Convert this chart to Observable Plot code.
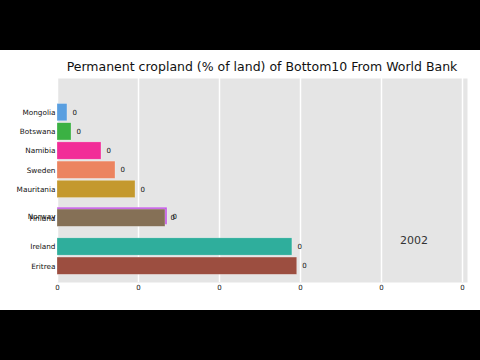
<!DOCTYPE html>
<html><head><meta charset="utf-8">
<script src="https://cdn.jsdelivr.net/npm/d3@7"></script>
<script src="https://cdn.jsdelivr.net/npm/@observablehq/plot@0.6"></script>
<style>
html,body{margin:0;padding:0;background:#000;width:480px;height:360px;overflow:hidden;font-family:"DejaVu Sans",sans-serif;}
#frame{position:absolute;left:0;top:50px;width:480px;height:260px;background:#fff;}
#title{position:absolute;left:57px;width:410px;top:9px;text-align:center;font-size:12.5px;color:#111;white-space:nowrap;}
#chart{position:absolute;left:0;top:28px;}
</style></head>
<body>
<div id="frame"><div id="title">Permanent cropland (% of land) of Bottom10 From World Bank</div><div id="chart"></div></div>
<script>
const countries = ["Mongolia","Botswana","Namibia","Sweden","Mauritania","Norway","Finland","Ireland","Eritrea"];
const values = [0.00123,0.00173,0.00543,0.00716,0.00963,0.01358,0.01333,0.0290,0.0296];
const ranks = [1,2,3,4,5,6.4,6.5,8,9];
const colors = ["#5a9fe0","#3bb143","#f22c98","#ec8460","#c4992e","#c45ee4","#857056","#2fae9c","#9c4e40"];
const ticks = [0,0.01,0.02,0.03,0.04,0.05];
const year = "2002";

const data = countries.map((c,i)=>({country:c,value:values[i],rank:ranks[i],color:colors[i]}));
const half = 0.45;

const chart = Plot.plot({
  width:480, height:232,
  marginLeft:57, marginRight:13, marginTop:0, marginBottom:28,
  style:{fontFamily:"DejaVu Sans, sans-serif", fontSize:"7px", background:"transparent"},
  x:{domain:[0,0.05], range:[57,462], ticks:ticks, tickFormat:d3.format(".0f"), tickSize:0, tickPadding:4, label:null},
  y:{domain:[-0.78,9.85], range:[0,204], axis:null},
  marks:[
    Plot.frame({fill:"#e5e5e5", stroke:null}),
    Plot.gridX(ticks,{stroke:"#fff", strokeOpacity:1, strokeWidth:1.5}),
    Plot.rect(data,{x1:0, x2:"value", y1:d=>d.rank-half, y2:d=>d.rank+half, fill:"color", stroke:"#fff", strokeOpacity:0.5, strokeWidth:0.5}),
    Plot.text(data,{x:"value", y:"rank", text:()=> "0", textAnchor:"start", dx:5, fontSize:7, fill:"#111"}),
    Plot.text(data,{x:0, y:"rank", text:"country", textAnchor:"end", dx:-2, fontSize:7.3, fill:"#111"}),
    Plot.text([year],{x:0.044, y:7.66, text:d=>d, fontSize:11, fill:"#333"}),
    Plot.axisX({ticks:ticks, tickFormat:d3.format(".0f"), tickSize:0, tickPadding:3, fontSize:7, fill:"#111", label:null})
  ]
});
document.getElementById("chart").appendChild(chart);
</script>
</body></html>
